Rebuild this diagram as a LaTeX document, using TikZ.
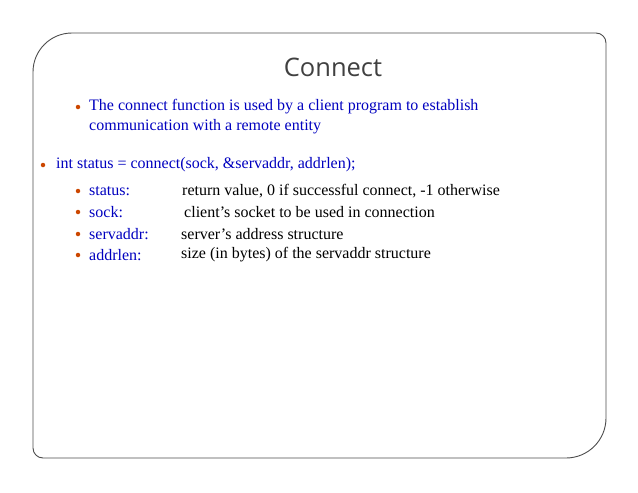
\documentclass[tikz,border=0pt]{standalone}
\usepackage{fontspec}
\setmainfont{Liberation Serif}
\newfontfamily\titlefont{Open Sans}
\begin{document}
\begin{tikzpicture}[x=1pt,y=-1pt,
  txt/.style={anchor=west,inner sep=0pt,font=\fontsize{16}{19}\selectfont},
  blu/.style={txt,text=blue!75!black},
  blk/.style={txt,text=black},
  bul/.style={circle,fill=orange!70!red!80!black,inner sep=0pt,minimum size=4.5pt}]
\useasboundingbox (0,0) rectangle (638,493);
\draw[gray!60!black,line width=0.9pt] (33,250) [rounded corners=39pt] -- (33,33) [rounded corners=10pt] -- (606,33) [rounded corners=40pt] -- (606,458) [rounded corners=10pt] -- (33,458) -- cycle;
\node[text=gray!50!black,font=\titlefont\fontsize{25.5}{30}\selectfont] (title) at (333,67) {Connect};
\node[bul] (b1) at (78,107) {};
\node[blu] (t1) at (89,107) {The connect function is used by a client program to establish};
\node[blu] (t1b) at (89,127) {communication with a remote entity};
\node[bul] (b2) at (43,165) {};
\node[blu] (t2) at (56,165) {int status = connect(sock, \&servaddr, addrlen);};
\node[bul] (b3) at (78,191) {}; \node[blu] (l3) at (89,191) {status:}; \node[blk] (d3) at (182,191) {return value, 0 if successful connect, -1 otherwise};
\node[bul] (b4) at (78,212) {}; \node[blu] (l4) at (89,212) {sock:}; \node[blk] (d4) at (184,212) {client’s socket to be used in connection};
\node[bul] (b5) at (78,234) {}; \node[blu] (l5) at (89,234) {servaddr:}; \node[blk] (d5) at (181,234) {server’s address structure};
\node[bul] (b6) at (78,255) {}; \node[blu] (l6) at (89,255) {addrlen:}; \node[blk] (d6) at (181,255) {size (in bytes) of the servaddr structure};
\end{tikzpicture}
\end{document}
